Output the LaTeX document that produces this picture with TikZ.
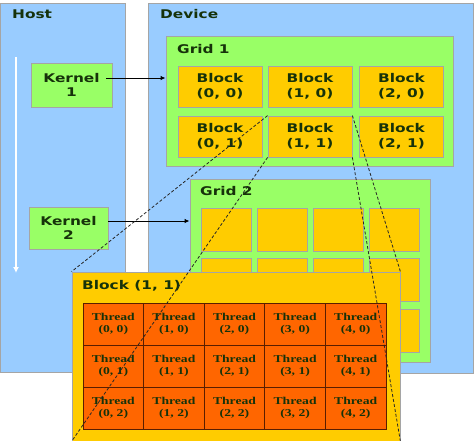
\documentclass[tikz,border=0pt]{standalone}
\usepackage{fontspec}
\usetikzlibrary{arrows.meta}
\newfontfamily\lblfont[FakeStretch=1.28]{DejaVu Sans}
\newfontfamily\thrfont[FakeStretch=1.3]{Liberation Serif}
\definecolor{hostblue}{RGB}{153,204,255}
\definecolor{gridgreen}{RGB}{153,255,102}
\definecolor{blockgold}{RGB}{255,204,0}
\definecolor{throrange}{RGB}{255,102,0}
\definecolor{txtgreen}{RGB}{22,50,10}
\definecolor{thrline}{RGB}{90,30,0}
\definecolor{edgegray}{RGB}{165,165,165}
\tikzset{
  panel/.style={draw=edgegray, line width=0.8pt, inner sep=0pt},
  lbl/.style={anchor=base west, inner sep=0pt, text=txtgreen,
    font=\lblfont\bfseries\fontsize{12}{15}\selectfont},
  blk/.style={panel, fill=blockgold, minimum width=84, minimum height=41,
    align=center, text=txtgreen, font=\lblfont\bfseries\fontsize{12}{15}\selectfont},
  sblk/.style={panel, fill=blockgold, minimum width=50, minimum height=43},
  thr/.style={draw=thrline, line width=0.8pt, fill=throrange, inner sep=0pt,
    minimum width=60.6, minimum height=42, align=center, text=txtgreen,
    font=\thrfont\bfseries\fontsize{10.5}{12}\selectfont},
  zoomline/.style={draw=black!85, line width=0.8pt, dash pattern=on 3pt off 2pt},
}
\begin{document}
\begin{tikzpicture}[x=1pt,y=-1pt]
  \useasboundingbox (0,0) rectangle (474,440);

  % host and device
  \begin{scope}[every node/.style={panel, fill=hostblue}]
    \node (host)   at (62.5,187.5) [minimum width=125, minimum height=369] {};
    \node (device) at (310.5,188)  [minimum width=325, minimum height=370] {};
  \end{scope}
  \node[lbl] at (12,18)  {Host};
  \node[lbl] at (160,18) {Device};

  % host timeline
  \coordinate (tstart) at (16,57);
  \coordinate (tend)   at (16,273);
  \draw[white, line width=1.5pt, -{Latex[length=6pt,width=6pt]}] (tstart) -- (tend);

  % grids
  \begin{scope}[every node/.style={panel, fill=gridgreen}]
    \node (g1) at (309.5,101)  [minimum width=287, minimum height=130] {};
    \node (g2) at (310,270.5)  [minimum width=240, minimum height=183] {};
  \end{scope}
  \node[lbl] at (177,53)  {Grid 1};
  \node[lbl] at (200,195) {Grid 2};

  % blocks of grid 1
  \begin{scope}[every node/.style={blk}]
    \node (b00) at (220,86.5)    {Block\\(0, 0)};
    \node (b10) at (310,86.5)    {Block\\(1, 0)};
    \node (b20) at (401.5,86.5)  {Block\\(2, 0)};
    \node (b01) at (220,136.5)   {Block\\(0, 1)};
    \node (b11) at (310,136.5)   {Block\\(1, 1)};
    \node (b21) at (401.5,136.5) {Block\\(2, 1)};
  \end{scope}

  % blocks of grid 2
  \begin{scope}[every node/.style={sblk}]
    \node (s00) at (226,229.5)   {};
    \node (s10) at (282.5,229.5) {};
    \node (s20) at (338,229.5)   {};
    \node (s30) at (394.5,229.5) {};
    \node (s01) at (226,280)     {};
    \node (s11) at (282.5,280)   {};
    \node (s21) at (338,280)     {};
    \node (s31) at (394.5,280)   {};
    \node (s02) at (226,331)     {};
    \node (s12) at (282.5,331)   {};
    \node (s22) at (338,331)     {};
    \node (s32) at (394.5,331)   {};
  \end{scope}

  % kernels
  \begin{scope}[every node/.style={panel, fill=gridgreen, align=center, text=txtgreen,
      font=\lblfont\bfseries\fontsize{12}{13.5}\selectfont}]
    \node (k1) at (71.5,85) [minimum width=81, minimum height=44] {Kernel\\1};
    \node (k2) at (68.5,228) [minimum width=79, minimum height=42] {Kernel\\2};
  \end{scope}
  \coordinate (k1out) at ([xshift=-6pt,yshift=7pt]k1.east);
  \coordinate (k2out) at ([yshift=7pt]k2.east);
  \draw[line width=1pt, -{Latex[length=5pt,width=4.5pt]}] (k1out) -- (k1out -| g1.west);
  \draw[line width=1pt, -{Latex[length=5pt,width=4.5pt]}] (k2out) -- (k2out -| g2.west);

  % block (1, 1) with its threads
  \node[panel, fill=blockgold] (eb) at (236,356.5) [minimum width=328, minimum height=169] {};
  \node[lbl] at (82,289) {Block (1, 1)};
  \begin{scope}[every node/.style={thr}]
    \node (t00) at (113.3,324) {Thread\\(0, 0)};
    \node (t10) at (173.9,324) {Thread\\(1, 0)};
    \node (t20) at (234.5,324) {Thread\\(2, 0)};
    \node (t30) at (295.1,324) {Thread\\(3, 0)};
    \node (t40) at (355.7,324) {Thread\\(4, 0)};
    \node (t01) at (113.3,366) {Thread\\(0, 1)};
    \node (t11) at (173.9,366) {Thread\\(1, 1)};
    \node (t21) at (234.5,366) {Thread\\(2, 1)};
    \node (t31) at (295.1,366) {Thread\\(3, 1)};
    \node (t41) at (355.7,366) {Thread\\(4, 1)};
    \node (t02) at (113.3,408) {Thread\\(0, 2)};
    \node (t12) at (173.9,408) {Thread\\(1, 2)};
    \node (t22) at (234.5,408) {Thread\\(2, 2)};
    \node (t32) at (295.1,408) {Thread\\(3, 2)};
    \node (t42) at (355.7,408) {Thread\\(4, 2)};
  \end{scope}

  % zoom lines
  \begin{scope}[every path/.style={zoomline}]
    \path (b11.north west) edge (eb.north west);
    \path (b11.south west) edge (eb.south west);
    \path (b11.north east) edge (eb.north east);
    \path (b11.south east) edge (eb.south east);
  \end{scope}

\end{tikzpicture}
\end{document}
